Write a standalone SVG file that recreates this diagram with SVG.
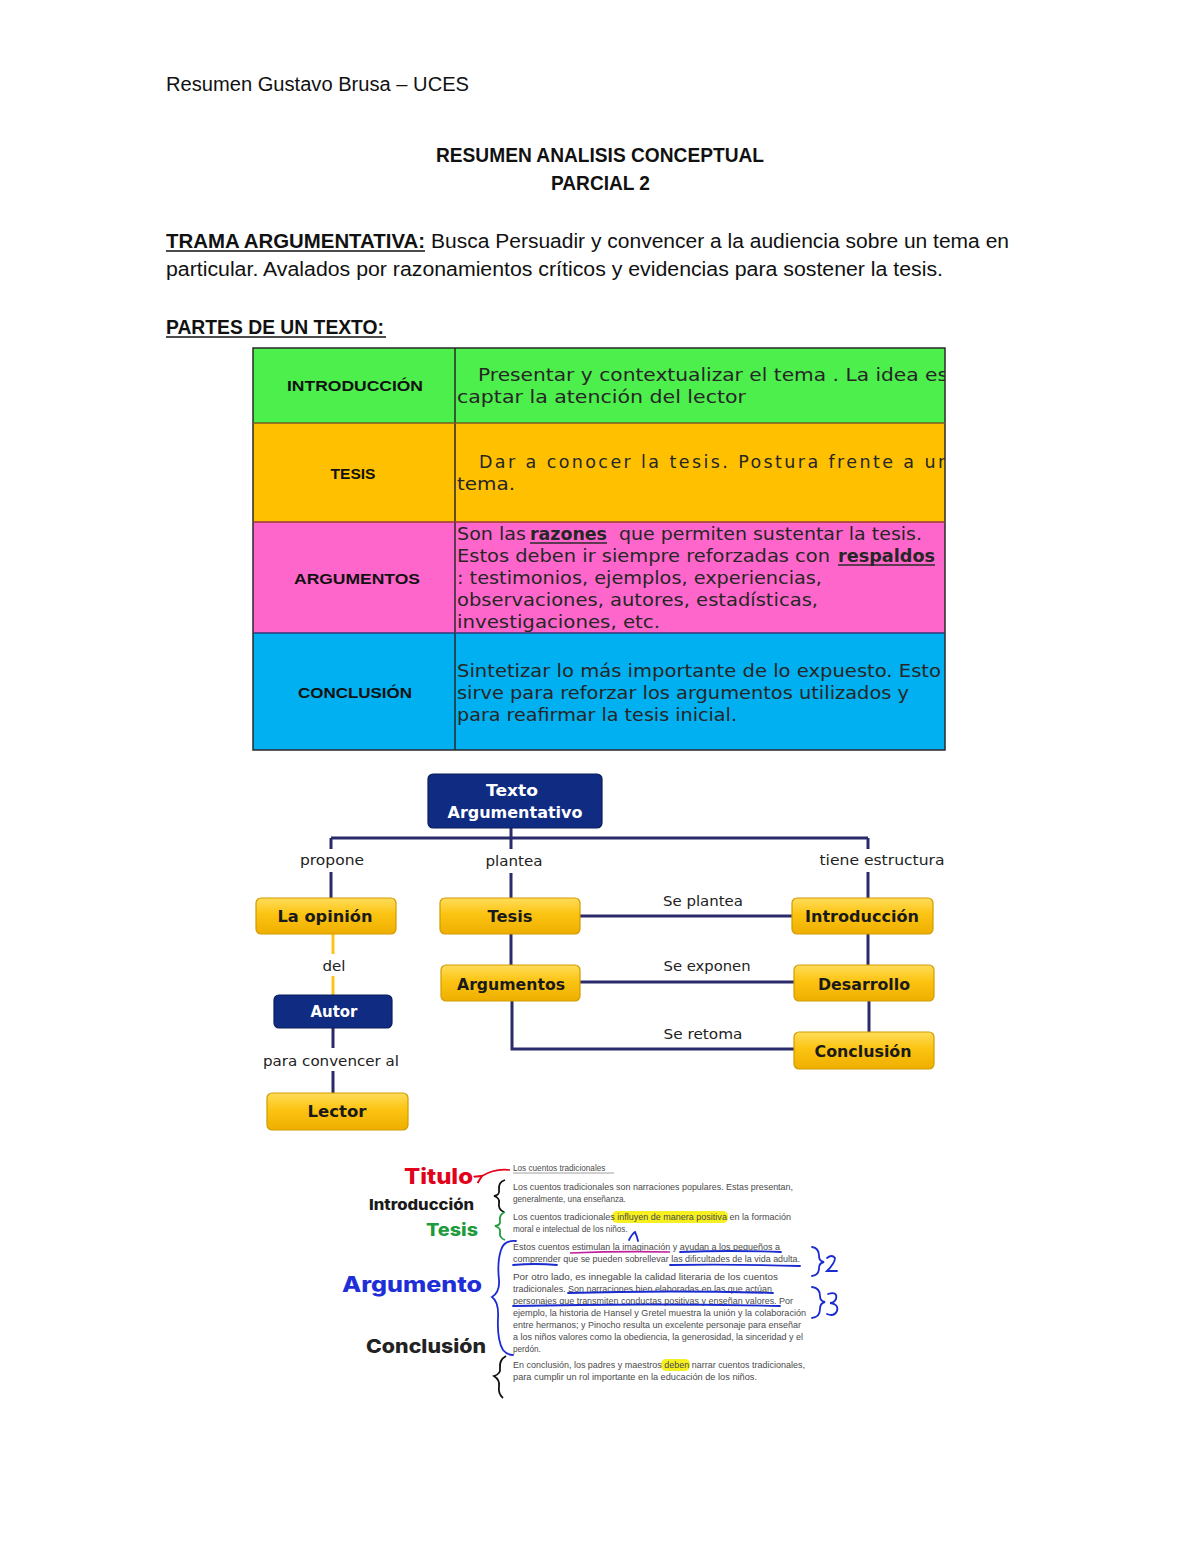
<svg xmlns="http://www.w3.org/2000/svg" width="1200" height="1553" viewBox="0 0 1200 1553">
<style>
.hdr{font-family:"Liberation Sans",Arial,sans-serif;fill:#111}
.b{font-weight:bold}
.tl{font-family:"Liberation Sans",Arial,sans-serif;font-weight:bold;font-size:15.5px;fill:#111;text-anchor:middle}
.tc{font-family:"DejaVu Sans",Verdana,sans-serif;font-size:17.5px;fill:#262626}
.tcb{font-family:"DejaVu Sans",Verdana,sans-serif;font-size:17.5px;fill:#262626;font-weight:bold}
.nt{font-family:"DejaVu Sans",Verdana,sans-serif;font-size:16.5px;fill:#1a1a1a;text-anchor:middle;font-weight:bold}
.nw{font-family:"DejaVu Sans",Verdana,sans-serif;font-size:16.5px;fill:#ffffff;text-anchor:middle;font-weight:bold}
.lb{font-family:"DejaVu Sans",Verdana,sans-serif;font-size:14.5px;fill:#222;text-anchor:middle}
.yel{fill:url(#gy);stroke:#d19c00;stroke-width:1.2}
.nav{fill:#0f2b82;stroke:#0a1d5a;stroke-width:1.2}
.con{stroke:#2b2b6b;stroke-width:3;fill:none}
.sm{font-family:"Liberation Sans",Arial,sans-serif;font-size:8.2px;fill:#4a4a4a}
.lab{font-family:Inter,"Liberation Sans",Arial,sans-serif;font-weight:800}
.blue{stroke:#1a2bd0;stroke-width:1.8;fill:none;stroke-linecap:round}
</style>
<defs>
<linearGradient id="gy" x1="0" y1="0" x2="0" y2="1">
<stop offset="0" stop-color="#ffdc5a"/>
<stop offset="0.45" stop-color="#fcc412"/>
<stop offset="1" stop-color="#eeae00"/>
</linearGradient>
<clipPath id="tclip"><rect x="253" y="348" width="692" height="402"/></clipPath>
<marker id="ra" viewBox="0 0 10 10" refX="2" refY="5" markerWidth="6" markerHeight="6" orient="auto-start-reverse">
<path d="M10,1 L2,5 L10,9" fill="none" stroke="#e3001b" stroke-width="2"/>
</marker>
</defs>
<rect width="1200" height="1553" fill="#ffffff"/>

<!-- Header texts -->
<text class="hdr" x="166" y="91" font-size="20" textLength="303" lengthAdjust="spacingAndGlyphs">Resumen Gustavo Brusa – UCES</text>
<text class="hdr b" x="436" y="162" font-size="20" textLength="328" lengthAdjust="spacingAndGlyphs">RESUMEN ANALISIS CONCEPTUAL</text>
<text class="hdr b" x="551" y="190" font-size="20" textLength="99" lengthAdjust="spacingAndGlyphs">PARCIAL 2</text>
<text class="hdr b" x="166" y="248" font-size="20" textLength="259" lengthAdjust="spacingAndGlyphs">TRAMA ARGUMENTATIVA:</text>
<line x1="166" y1="251" x2="425" y2="251" stroke="#111" stroke-width="1.6"/>
<text class="hdr" x="431" y="248" font-size="20" textLength="578" lengthAdjust="spacingAndGlyphs">Busca Persuadir y convencer a la audiencia sobre un tema en</text>
<text class="hdr" x="166" y="276" font-size="20" textLength="777" lengthAdjust="spacingAndGlyphs">particular. Avalados por razonamientos críticos y evidencias para sostener la tesis.</text>
<text class="hdr b" x="166" y="334" font-size="20" textLength="218" lengthAdjust="spacingAndGlyphs">PARTES DE UN TEXTO:</text>
<line x1="166" y1="337" x2="386" y2="337" stroke="#111" stroke-width="1.6"/>

<!-- Table -->
<g id="tabla">
<rect x="253" y="348" width="692" height="75" fill="#4cef4c"/>
<rect x="253" y="423" width="692" height="99" fill="#ffc000"/>
<rect x="253" y="522" width="692" height="111" fill="#ff66cc"/>
<rect x="253" y="633" width="692" height="117" fill="#00b0f0"/>
<g stroke="#2a2a2a" stroke-width="1.5" fill="none">
<rect x="253" y="348" width="692" height="402"/>
<line x1="455" y1="348" x2="455" y2="750"/>
<line x1="253" y1="423" x2="945" y2="423" stroke="#7a5a20"/>
<line x1="253" y1="522" x2="945" y2="522" stroke="#9a3a3a"/>
<line x1="253" y1="633" x2="945" y2="633" stroke="#2a3a7a"/>
</g>
<text class="tl" x="355" y="391" textLength="136" lengthAdjust="spacingAndGlyphs">INTRODUCCIÓN</text>
<text class="tl" x="353" y="479" textLength="45" lengthAdjust="spacingAndGlyphs">TESIS</text>
<text class="tl" x="357" y="584" textLength="126" lengthAdjust="spacingAndGlyphs">ARGUMENTOS</text>
<text class="tl" x="355" y="698" textLength="114" lengthAdjust="spacingAndGlyphs">CONCLUSIÓN</text>
<g clip-path="url(#tclip)">
<text class="tc" x="478" y="381" textLength="470" lengthAdjust="spacingAndGlyphs">Presentar y contextualizar el tema . La idea es</text>
<text class="tc" x="457" y="403" textLength="289" lengthAdjust="spacingAndGlyphs">captar la atención del lector</text>
<text class="tc" x="479" y="468" textLength="470" lengthAdjust="spacing">Dar a conocer la tesis. Postura frente a un</text>
<text class="tc" x="457" y="490" textLength="58" lengthAdjust="spacingAndGlyphs">tema.</text>
<text class="tc" x="457" y="540" textLength="69" lengthAdjust="spacingAndGlyphs">Son las</text>
<text class="tcb" x="530" y="540" textLength="77" lengthAdjust="spacingAndGlyphs">razones</text>
<line x1="530" y1="543" x2="607" y2="543" stroke="#2a2a2a" stroke-width="1.5"/>
<text class="tc" x="619" y="540" textLength="303" lengthAdjust="spacingAndGlyphs">que permiten sustentar la tesis.</text>
<text class="tc" x="457" y="562" textLength="373" lengthAdjust="spacingAndGlyphs">Estos deben ir siempre reforzadas con</text>
<text class="tcb" x="838" y="562" textLength="97" lengthAdjust="spacingAndGlyphs">respaldos</text>
<line x1="838" y1="565" x2="935" y2="565" stroke="#2a2a2a" stroke-width="1.5"/>
<text class="tc" x="457" y="584" textLength="365" lengthAdjust="spacingAndGlyphs">: testimonios, ejemplos, experiencias,</text>
<text class="tc" x="457" y="606" textLength="361" lengthAdjust="spacingAndGlyphs">observaciones, autores, estadísticas,</text>
<text class="tc" x="457" y="628" textLength="203" lengthAdjust="spacingAndGlyphs">investigaciones, etc.</text>
<text class="tc" x="457" y="677" textLength="484" lengthAdjust="spacingAndGlyphs">Sintetizar  lo más importante de lo expuesto. Esto</text>
<text class="tc" x="457" y="699" textLength="452" lengthAdjust="spacingAndGlyphs">sirve para reforzar los argumentos utilizados  y</text>
<text class="tc" x="457" y="721" textLength="280" lengthAdjust="spacingAndGlyphs">para reafirmar la tesis inicial.</text>
</g>
</g>

<!-- Concept map connectors -->
<g id="conectores">
<path class="con" d="M511,828 V838 M331,838 H868"/>
<path class="con" d="M511,838 V849 M511,873 V898"/>
<path class="con" d="M331,838 V849 M331,872 V898"/>
<path class="con" d="M868,838 V849 M868,872 V898"/>
<path d="M333,934 V954 M333,976 V995" stroke="#ffc21a" stroke-width="3" fill="none"/>
<path class="con" d="M333,1028 V1048 M333,1071 V1093"/>
<path class="con" d="M580,916 H792"/>
<path class="con" d="M511,934 V965"/>
<path class="con" d="M580,982 H794"/>
<path class="con" d="M868,934 V965"/>
<path class="con" d="M869,1001 V1032"/>
<path class="con" d="M512,1001 V1049 H794"/>
<text class="lb" x="332" y="865" textLength="64" lengthAdjust="spacingAndGlyphs">propone</text>
<text class="lb" x="514" y="866" textLength="57" lengthAdjust="spacingAndGlyphs">plantea</text>
<text class="lb" x="882" y="865" textLength="125" lengthAdjust="spacingAndGlyphs">tiene estructura</text>
<text class="lb" x="334" y="971" textLength="23" lengthAdjust="spacingAndGlyphs">del</text>
<text class="lb" x="331" y="1066" textLength="136" lengthAdjust="spacingAndGlyphs">para convencer al</text>
<text class="lb" x="703" y="906" textLength="80" lengthAdjust="spacingAndGlyphs">Se plantea</text>
<text class="lb" x="707" y="971" textLength="87" lengthAdjust="spacingAndGlyphs">Se exponen</text>
<text class="lb" x="703" y="1039" textLength="79" lengthAdjust="spacingAndGlyphs">Se retoma</text>
</g>

<!-- Concept map nodes -->
<g id="texto-argumentativo">
<rect class="nav" x="428" y="774" width="174" height="54" rx="5"/>
<text class="nw" x="512" y="796" textLength="52" lengthAdjust="spacingAndGlyphs">Texto</text>
<text class="nw" x="515" y="818" textLength="135" lengthAdjust="spacingAndGlyphs">Argumentativo</text>
</g>
<g id="la-opinion">
<rect class="yel" x="256" y="898" width="140" height="36" rx="5"/>
<text class="nt" x="325" y="922" textLength="95" lengthAdjust="spacingAndGlyphs">La opinión</text>
</g>
<g id="autor">
<rect class="nav" x="274" y="995" width="118" height="33" rx="5"/>
<text class="nw" x="334" y="1017" textLength="47" lengthAdjust="spacingAndGlyphs">Autor</text>
</g>
<g id="lector">
<rect class="yel" x="267" y="1093" width="141" height="37" rx="5"/>
<text class="nt" x="337" y="1117" textLength="59" lengthAdjust="spacingAndGlyphs">Lector</text>
</g>
<g id="tesis">
<rect class="yel" x="440" y="898" width="140" height="36" rx="5"/>
<text class="nt" x="510" y="922" textLength="45" lengthAdjust="spacingAndGlyphs">Tesis</text>
</g>
<g id="argumentos">
<rect class="yel" x="441" y="965" width="139" height="36" rx="5"/>
<text class="nt" x="511" y="990" textLength="108" lengthAdjust="spacingAndGlyphs">Argumentos</text>
</g>
<g id="introduccion">
<rect class="yel" x="792" y="898" width="141" height="36" rx="5"/>
<text class="nt" x="862" y="922" textLength="114" lengthAdjust="spacingAndGlyphs">Introducción</text>
</g>
<g id="desarrollo">
<rect class="yel" x="794" y="965" width="140" height="36" rx="5"/>
<text class="nt" x="864" y="990" textLength="92" lengthAdjust="spacingAndGlyphs">Desarrollo</text>
</g>
<g id="conclusion">
<rect class="yel" x="794" y="1032" width="140" height="37" rx="5"/>
<text class="nt" x="863" y="1057" textLength="97" lengthAdjust="spacingAndGlyphs">Conclusión</text>
</g>

<!-- Annotated text image -->
<g id="ejemplo">
<rect x="612" y="1211" width="116" height="12" rx="5" fill="#f7f020"/>
<rect x="661" y="1359" width="29" height="12" rx="5" fill="#f7f020"/>
<text class="lab" x="404" y="1184" font-size="22" fill="#e3001b" textLength="69" lengthAdjust="spacingAndGlyphs">Titulo</text>
<path d="M510,1170 Q495,1168 482,1176" stroke="#e3001b" stroke-width="1.6" fill="none" marker-end="url(#ra)"/>
<text class="lab" x="369" y="1210" font-size="15" fill="#1a1a1a" textLength="105" lengthAdjust="spacingAndGlyphs">Introducción</text>
<text class="lab" x="426" y="1236" font-size="18" fill="#1e9b3c" textLength="52" lengthAdjust="spacingAndGlyphs">Tesis</text>
<text class="lab" x="342" y="1292" font-size="21" fill="#1f2fd8" textLength="140" lengthAdjust="spacingAndGlyphs">Argumento</text>
<text class="lab" x="366" y="1353" font-size="19" fill="#222" textLength="120" lengthAdjust="spacingAndGlyphs">Conclusión</text>

<text class="sm" x="513" y="1171">Los cuentos tradicionales</text>
<line x1="513" y1="1173" x2="614" y2="1173" stroke="#888" stroke-width="0.8"/>
<text class="sm" x="513" y="1190" textLength="280" lengthAdjust="spacingAndGlyphs">Los cuentos tradicionales son narraciones populares. Estas presentan,</text>
<text class="sm" x="513" y="1202">generalmente, una enseñanza.</text>
<text class="sm" x="513" y="1220" textLength="278" lengthAdjust="spacingAndGlyphs">Los cuentos tradicionales influyen de manera positiva en la formación</text>
<text class="sm" x="513" y="1232">moral e intelectual de los niños.</text>
<text class="sm" x="513" y="1250" textLength="267" lengthAdjust="spacingAndGlyphs">Estos cuentos estimulan la imaginación y ayudan a los pequeños a</text>
<text class="sm" x="513" y="1262" textLength="287" lengthAdjust="spacingAndGlyphs">comprender que se pueden sobrellevar las dificultades de la vida adulta.</text>
<text class="sm" x="513" y="1280" textLength="265" lengthAdjust="spacingAndGlyphs">Por otro lado, es innegable la calidad literaria de los cuentos</text>
<text class="sm" x="513" y="1292" textLength="259" lengthAdjust="spacingAndGlyphs">tradicionales. Son narraciones bien elaboradas en las que actúan</text>
<text class="sm" x="513" y="1304" textLength="280" lengthAdjust="spacingAndGlyphs">personajes que transmiten conductas positivas y enseñan valores. Por</text>
<text class="sm" x="513" y="1316" textLength="293" lengthAdjust="spacingAndGlyphs">ejemplo, la historia de Hansel y Gretel muestra la unión y la colaboración</text>
<text class="sm" x="513" y="1328" textLength="288" lengthAdjust="spacingAndGlyphs">entre hermanos; y Pinocho resulta un excelente personaje para enseñar</text>
<text class="sm" x="513" y="1340" textLength="290" lengthAdjust="spacingAndGlyphs">a los niños valores como la obediencia, la generosidad, la sinceridad y el</text>
<text class="sm" x="513" y="1352">perdón.</text>
<text class="sm" x="513" y="1368" textLength="292" lengthAdjust="spacingAndGlyphs">En conclusión, los padres y maestros deben narrar cuentos tradicionales,</text>
<text class="sm" x="513" y="1380" textLength="244" lengthAdjust="spacingAndGlyphs">para cumplir un rol importante en la educación de los niños.</text>

<!-- braces -->
<path d="M505,1180 Q498,1182 499,1190 Q500,1195 494,1196 Q500,1198 499,1203 Q498,1210 504,1212" stroke="#111" stroke-width="1.8" fill="none"/>
<path d="M505,1212 Q499,1214 500,1221 Q501,1225 495,1226 Q501,1228 500,1232 Q499,1238 505,1240" stroke="#1e9b3c" stroke-width="1.8" fill="none"/>
<path class="blue" d="M516,1241 Q504,1240 501,1250 Q497,1262 499,1280 Q500,1292 492,1297 Q499,1302 498,1318 Q497,1340 503,1350 Q507,1355 513,1355"/>
<path d="M506,1356 Q499,1360 500,1368 Q501,1374 494,1376 Q500,1380 499,1386 Q498,1394 503,1398" stroke="#111" stroke-width="1.8" fill="none"/>

<!-- handwritten marks -->
<path class="blue" d="M629,1240 Q632,1234 635,1232 Q637,1236 638,1241"/>
<path d="M570,1253 Q620,1251 670,1252" stroke="#c0209a" stroke-width="1.6" fill="none"/>
<path class="blue" d="M680,1252 Q730,1250 781,1252"/>
<path class="blue" d="M513,1265 Q535,1263 557,1265"/>
<path class="blue" d="M670,1265 Q735,1264 800,1266"/>
<path class="blue" d="M568,1293 Q670,1290 773,1293"/>
<path class="blue" d="M513,1306 Q645,1303 780,1306"/>
<path class="blue" d="M812,1247 Q819,1248 819,1256 Q819,1261 824,1262 Q819,1263 819,1268 Q819,1275 812,1276"/>
<path class="blue" d="M827,1258 Q832,1254 835,1258 Q835,1263 827,1271 L837,1271"/>
<path class="blue" d="M812,1287 Q820,1288 820,1296 Q820,1301 825,1302 Q820,1303 820,1309 Q820,1317 812,1318"/>
<path class="blue" d="M828,1294 Q838,1291 836,1299 Q834,1303 830,1303 Q839,1304 837,1311 Q834,1317 827,1314"/>
</g>
</svg>
